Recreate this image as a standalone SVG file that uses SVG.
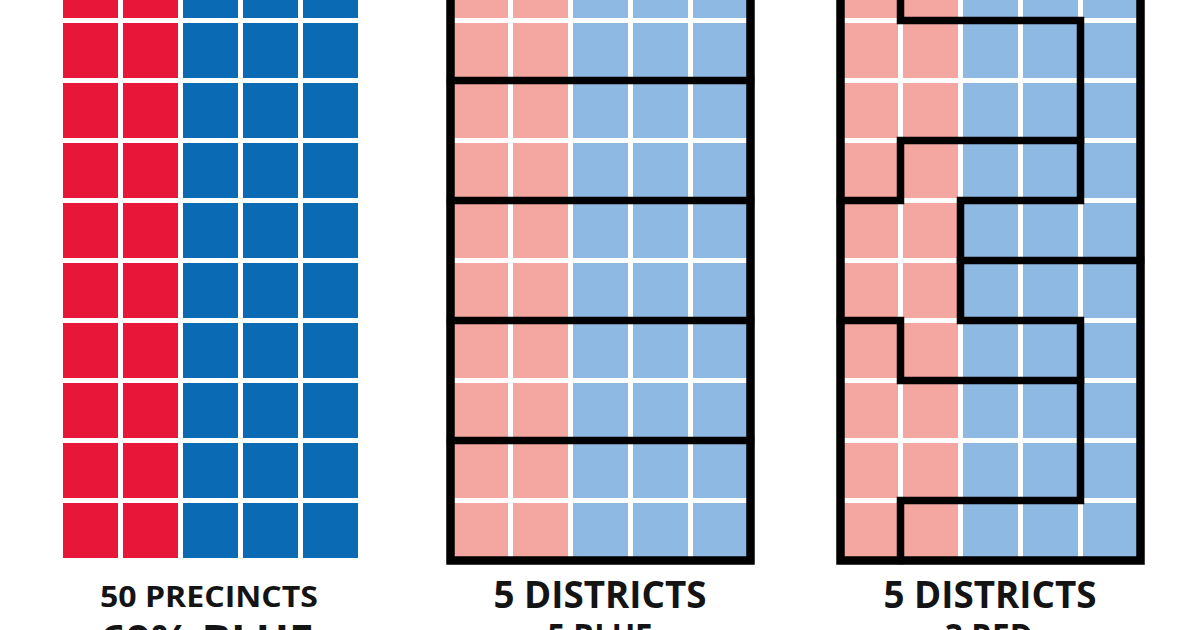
<svg xmlns="http://www.w3.org/2000/svg" width="1200" height="630" viewBox="0 0 1200 630">
  <style>
    .lbl { font-family: "Open Sans", "Liberation Sans", sans-serif; font-weight: 700; fill: #141414; text-anchor: middle; }
    .border { fill: none; stroke: #000; stroke-width: 8.5; stroke-linejoin: miter; }
    .dist { fill: none; stroke: #000; stroke-width: 7.5; stroke-linejoin: miter; stroke-linecap: square; }
  </style>
  <defs>
    <pattern id="pRed" patternUnits="userSpaceOnUse" x="0" y="0" width="60" height="60"><rect width="55" height="55" fill="#E8173A"/></pattern>
    <pattern id="pBlue" patternUnits="userSpaceOnUse" x="0" y="0" width="60" height="60"><rect width="55" height="55" fill="#0B6AB4"/></pattern>
    <pattern id="pPink" patternUnits="userSpaceOnUse" x="0" y="0" width="60" height="60"><rect width="55" height="55" fill="#F4A6A1"/></pattern>
    <pattern id="pLight" patternUnits="userSpaceOnUse" x="0" y="0" width="60" height="60"><rect width="55" height="55" fill="#8EB9E3"/></pattern>
  </defs>
  <rect width="1200" height="630" fill="#fff"/>

  <g id="precincts" transform="translate(63,23)">
    <rect x="0" y="-60" width="115" height="595" fill="url(#pRed)"/>
    <rect x="120" y="-60" width="175" height="595" fill="url(#pBlue)"/>
  </g>

  <g id="districts-fair" transform="translate(453,23)">
    <rect x="0" y="-60" width="115" height="595" fill="url(#pPink)"/>
    <rect x="120" y="-60" width="175" height="595" fill="url(#pLight)"/>
    <g class="connectors">
      <path class="dist" d="M-2.5,57.5 H297.5 M-2.5,177.5 H297.5 M-2.5,297.5 H297.5 M-2.5,417.5 H297.5"/>
    </g>
    <path class="border" d="M-2.5,-80 V537.5 H297.5 V-80"/>
  </g>

  <g id="districts-gerrymandered" transform="translate(843,23)">
    <rect x="0" y="-60" width="115" height="595" fill="url(#pPink)"/>
    <rect x="120" y="-60" width="175" height="595" fill="url(#pLight)"/>
    <g class="connectors">
      <path class="dist" d="M57.5,-70 V-2.5 H237.5 V177.5 H117.5 V297.5 H237.5 V477.5 H57.5 V537.5"/>
      <path class="dist" d="M237.5,117.5 H57.5 V177.5 H-2.5"/>
      <path class="dist" d="M117.5,237.5 H297.5"/>
      <path class="dist" d="M-2.5,297.5 H57.5 V357.5 H237.5"/>
    </g>
    <path class="border" d="M-2.5,-80 V537.5 H297.5 V-80"/>
  </g>

  <g id="labels">
    <text class="lbl" x="209" y="607" font-size="28" textLength="218" lengthAdjust="spacingAndGlyphs">50 PRECINCTS</text>
    <text class="lbl" x="207" y="653" font-size="40" textLength="213" lengthAdjust="spacingAndGlyphs">60% BLUE</text>
    <text class="lbl" x="600" y="608" font-size="37" textLength="213" lengthAdjust="spacingAndGlyphs">5 DISTRICTS</text>
    <text class="lbl" x="600" y="650" font-size="36" textLength="105" lengthAdjust="spacingAndGlyphs">5 BLUE</text>
    <text class="lbl" x="990" y="608" font-size="37" textLength="213" lengthAdjust="spacingAndGlyphs">5 DISTRICTS</text>
    <text class="lbl" x="989" y="650" font-size="36" textLength="88" lengthAdjust="spacingAndGlyphs">3 RED</text>
  </g>
</svg>
